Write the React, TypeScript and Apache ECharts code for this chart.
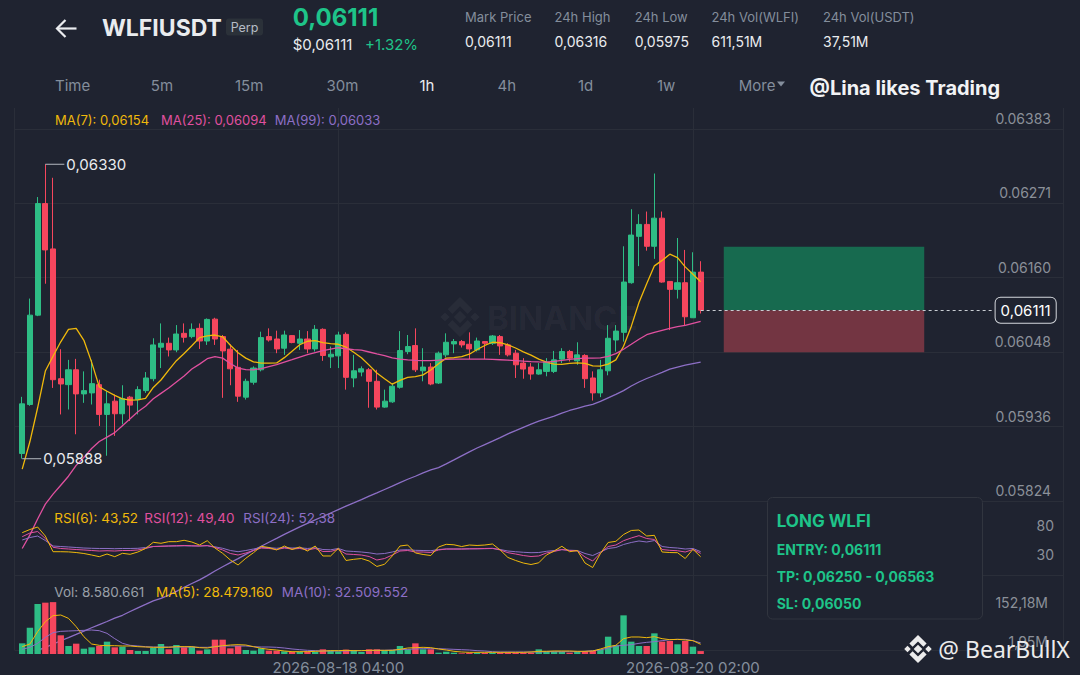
import React, { useEffect, useRef } from "react";
import * as echarts from "echarts";

// ---------- colours ----------
const BG = "#1f2330";
const GRID = "#2a2e39";
const UP = "#2ebd85";
const DOWN = "#f6465d";
const TEXT = "#eaecef";
const MUTED = "#848e9c";
const AXIS_TEXT = "#8b9099";
const YELLOW = "#f0b90b";
const PINK = "#e0509f";
const PURPLE = "#8d6fc6";
const SIGNAL_GREEN = "#1ec489";

// ---------- time slots (1h candles) ----------
const FIRST_SLOT_TIME = "2026-08-16T10:00:00Z";
const SLOT_COUNT = 137;
const LEAD_SLOTS = 1;
const labelledTimes = ["2026-08-18 04:00", "2026-08-20 02:00"];

// ---------- candles ----------
const opens = [0.058959, 0.059694, 0.061035, 0.06271, 0.062029, 0.060081, 0.059992, 0.060215, 0.059853, 0.059868,
  0.059992, 0.059545, 0.059744, 0.059555, 0.059804, 0.059768, 0.059902, 0.060081, 0.060554, 0.060613,
  0.060513, 0.060762, 0.060713, 0.060837, 0.060647, 0.060975, 0.060713, 0.060524, 0.060251, 0.059804,
  0.060028, 0.060215, 0.060713, 0.060677, 0.060539, 0.060728, 0.060613, 0.060677, 0.060528, 0.060822,
  0.060409, 0.060424, 0.060747, 0.060092, 0.060181, 0.060215, 0.060042, 0.059655, 0.059734, 0.059953,
  0.060489, 0.060579, 0.0602, 0.060256, 0.060017, 0.060439, 0.060603, 0.060638, 0.060598, 0.060513,
  0.060638, 0.060613, 0.060713, 0.060588, 0.060464, 0.060315, 0.060256, 0.060151, 0.060191, 0.060191,
  0.060375, 0.060489, 0.060349, 0.06043, 0.060092, 0.059868, 0.0602, 0.060662, 0.060777, 0.061522,
  0.062218, 0.062397, 0.062069, 0.062491, 0.061541, 0.061422, 0.061522, 0.060996, 0.061681];
const closes = [0.059704, 0.061035, 0.06271, 0.062014, 0.060066, 0.060002, 0.060215, 0.059853, 0.059902, 0.060007,
  0.059545, 0.059704, 0.059555, 0.059783, 0.059685, 0.059917, 0.060092, 0.060588, 0.060613, 0.060513,
  0.060752, 0.060703, 0.060822, 0.060647, 0.060971, 0.060677, 0.060498, 0.06023, 0.059819, 0.060042,
  0.060241, 0.060698, 0.060662, 0.060528, 0.060737, 0.060624, 0.060677, 0.060528, 0.060822, 0.06043,
  0.060449, 0.060737, 0.060102, 0.0602, 0.06023, 0.060042, 0.059655, 0.059744, 0.059968, 0.060504,
  0.060564, 0.060215, 0.060256, 0.060002, 0.060464, 0.060628, 0.060638, 0.060588, 0.060528, 0.060647,
  0.060613, 0.060722, 0.060573, 0.060439, 0.06029, 0.060226, 0.060151, 0.060215, 0.06033, 0.060364,
  0.060489, 0.06039, 0.060439, 0.060081, 0.059868, 0.060215, 0.060688, 0.060796, 0.061532, 0.062237,
  0.062397, 0.062069, 0.062491, 0.061532, 0.061422, 0.061522, 0.061011, 0.061681, 0.06111];
const lows = [0.05888, 0.059674, 0.06102, 0.061507, 0.059943, 0.059545, 0.059619, 0.059247, 0.059719, 0.059694,
  0.059372, 0.058925, 0.059223, 0.059396, 0.059446, 0.059545, 0.059868, 0.060042, 0.060241, 0.060415,
  0.060479, 0.060624, 0.060688, 0.060528, 0.060588, 0.060588, 0.059794, 0.059983, 0.059734, 0.059768,
  0.059992, 0.060191, 0.060638, 0.060464, 0.060439, 0.060613, 0.060513, 0.060464, 0.060489, 0.060349,
  0.060241, 0.060241, 0.059917, 0.059953, 0.060117, 0.059645, 0.059619, 0.059645, 0.059719, 0.059932,
  0.060449, 0.060181, 0.060042, 0.059983, 0.060002, 0.0604, 0.060464, 0.060549, 0.060375, 0.060489,
  0.060375, 0.060588, 0.060439, 0.060415, 0.060092, 0.060081, 0.060066, 0.060141, 0.060117, 0.060166,
  0.060315, 0.06034, 0.06029, 0.059943, 0.059753, 0.059804, 0.060132, 0.060489, 0.060638, 0.061507,
  0.061771, 0.062003, 0.06188, 0.061522, 0.060811, 0.061284, 0.060886, 0.060996, 0.06106];
const highs = [0.059809, 0.061284, 0.062808, 0.0633, 0.063097, 0.060524, 0.060364, 0.060379, 0.060191, 0.060364,
  0.060066, 0.059893, 0.059843, 0.059983, 0.059823, 0.059968, 0.060181, 0.060688, 0.060911, 0.060698,
  0.060886, 0.060911, 0.060911, 0.060911, 0.060986, 0.060996, 0.060737, 0.060598, 0.060513, 0.060081,
  0.060266, 0.060787, 0.060837, 0.060802, 0.060802, 0.060737, 0.060811, 0.060796, 0.060886, 0.060837,
  0.060564, 0.060787, 0.060777, 0.060439, 0.060266, 0.060241, 0.060215, 0.059917, 0.060017, 0.060796,
  0.060737, 0.060837, 0.060539, 0.060315, 0.060489, 0.060762, 0.060677, 0.060662, 0.060777, 0.060698,
  0.060647, 0.060737, 0.060737, 0.060613, 0.060513, 0.06039, 0.060315, 0.060315, 0.06039, 0.060498,
  0.060539, 0.060513, 0.060628, 0.060449, 0.060191, 0.060364, 0.060886, 0.060886, 0.062069, 0.062625,
  0.06255, 0.06259, 0.063161, 0.06259, 0.061547, 0.062193, 0.062014, 0.061979, 0.061845];

// ---------- moving averages ----------
const ma7 = [0.058725, 0.059138, 0.059645, 0.060196, 0.060419, 0.060635, 0.060822, 0.060837, 0.060658, 0.06033,
  0.059958, 0.059893, 0.059831, 0.059779, 0.059759, 0.059764, 0.059786, 0.05995, 0.060062, 0.060211,
  0.060352, 0.06046, 0.060576, 0.060698, 0.060725, 0.060737, 0.06071, 0.060583, 0.060472, 0.06039,
  0.060334, 0.060315, 0.060315, 0.060318, 0.060397, 0.060495, 0.060591, 0.060643, 0.060652, 0.060624,
  0.060607, 0.060598, 0.060554, 0.060479, 0.060397, 0.060285, 0.060166, 0.060081, 0.059999, 0.060056,
  0.060102, 0.060112, 0.060139, 0.060211, 0.060306, 0.06039, 0.060396, 0.060412, 0.060449, 0.060519,
  0.06058, 0.060628, 0.060621, 0.060589, 0.060542, 0.060485, 0.060436, 0.060375, 0.06033, 0.0603,
  0.060296, 0.060311, 0.060318, 0.060312, 0.060273, 0.060269, 0.0603, 0.060364, 0.060568, 0.060866,
  0.061224, 0.061507, 0.061775, 0.061857, 0.06195, 0.061899, 0.06176, 0.061649, 0.061537];
const ma25 = [0.057533, 0.057737, 0.057976, 0.058199, 0.058348, 0.058482, 0.058617, 0.05878, 0.0589, 0.059034,
  0.059138, 0.059205, 0.059272, 0.059376, 0.059481, 0.059585, 0.059667, 0.059779, 0.059861, 0.059943,
  0.060032, 0.060121, 0.060226, 0.0603, 0.060382, 0.060412, 0.06039, 0.060308, 0.060241, 0.060218,
  0.060215, 0.060233, 0.060263, 0.060293, 0.06033, 0.060367, 0.060405, 0.060442, 0.060472, 0.060501,
  0.060524, 0.060546, 0.060531, 0.060519, 0.060509, 0.060482, 0.060454, 0.060428, 0.060394, 0.060375,
  0.060363, 0.060355, 0.060354, 0.060352, 0.06036, 0.060372, 0.060375, 0.060375, 0.060375, 0.060375,
  0.060375, 0.060371, 0.060366, 0.06036, 0.060354, 0.060345, 0.060337, 0.060333, 0.06033, 0.060342,
  0.060355, 0.060372, 0.060382, 0.06039, 0.06039, 0.060393, 0.060415, 0.060457, 0.060524, 0.060598,
  0.060673, 0.060741, 0.060777, 0.060807, 0.060837, 0.060862, 0.060881, 0.060911, 0.060941];
const ma99 = [0.055905, 0.055954, 0.056002, 0.056049, 0.056098, 0.056148, 0.056195, 0.056243, 0.056292, 0.056343,
  0.05639, 0.056437, 0.056486, 0.05653, 0.056587, 0.056642, 0.056694, 0.056747, 0.056784, 0.056833,
  0.056888, 0.056948, 0.057007, 0.057062, 0.057126, 0.057194, 0.057258, 0.05732, 0.05738, 0.057444,
  0.057506, 0.057566, 0.057626, 0.057685, 0.057745, 0.057801, 0.057857, 0.057909, 0.057961, 0.058013,
  0.058065, 0.058117, 0.058169, 0.058217, 0.058266, 0.058319, 0.058368, 0.058418, 0.058468, 0.05852,
  0.058572, 0.058617, 0.058669, 0.058713, 0.058746, 0.058803, 0.058862, 0.058922, 0.058982, 0.059041,
  0.059093, 0.059145, 0.059198, 0.059254, 0.059302, 0.059351, 0.059399, 0.059443, 0.059481, 0.059518,
  0.059563, 0.059604, 0.059637, 0.05967, 0.059697, 0.059741, 0.059794, 0.059846, 0.059902, 0.059972,
  0.060032, 0.060084, 0.060129, 0.060177, 0.060226, 0.060256, 0.060285, 0.060308, 0.06033];

// ---------- RSI ----------
const rsi6 = [85.3, 90.8, 95.1, 79.5, 52.3, 52.3, 52, 50.9, 49.2, 46.6,
  43.7, 48.3, 43.7, 49.5, 47.8, 51.8, 57.9, 68.6, 66.9, 69.7,
  69.7, 72.1, 69.1, 63.9, 71.4, 58.7, 49.5, 37.9, 29.3, 40.9,
  50.6, 61.7, 59.6, 55.3, 62.2, 56.1, 60.5, 53.5, 62.2, 44.9,
  44.9, 58.2, 37.1, 39.1, 40.5, 36.2, 26.7, 30.5, 44.9, 62.2,
  63.9, 50.1, 47.5, 45.7, 60.5, 65.1, 64.3, 61.3, 63.9, 63.1,
  63.9, 65.7, 55.3, 42.3, 37.1, 32.7, 30.1, 33.1, 46.6, 53.5,
  61.7, 52.3, 54.4, 32.7, 24.9, 49.2, 68.3, 70.3, 82.1, 89.1,
  89.9, 79.5, 80.7, 51.8, 50.9, 50.6, 40.5, 56.5, 43.52];
const rsi12 = [78.3, 84.7, 87.3, 75.2, 59.9, 57.9, 57, 56.1, 55.3, 54.4,
  53.5, 54, 53.5, 54.4, 54.4, 55.3, 57.9, 61.3, 61.7, 62.2,
  62.7, 63.1, 62.7, 62.2, 63.1, 59.6, 55.3, 49.2, 46.6, 50.1,
  54.4, 58.7, 57.9, 56.1, 58.7, 57, 57.9, 55.3, 57.9, 52.7,
  52.7, 56.5, 48.3, 47.5, 46.6, 44, 37.9, 40.5, 46.6, 53.5,
  54.4, 51.8, 51.8, 50.9, 55.3, 57, 57, 57, 57.3, 57.5,
  57.9, 58.2, 55.3, 50.6, 48.3, 45.7, 44, 44.9, 50.1, 52.7,
  56.1, 54.4, 53.5, 43.1, 36.2, 50.1, 61.3, 63.9, 71.4, 76.1,
  80.1, 75.2, 73.5, 56.1, 54.7, 54, 51.8, 56.1, 49.4];
const rsi24 = [72.6, 76.9, 79.5, 71.7, 62.2, 61.3, 60.5, 59.6, 58.7, 58.2,
  57.9, 57.9, 57.5, 57.9, 57.9, 58.2, 59.6, 61.3, 61.7, 62.2,
  62.2, 62.5, 62.2, 62.2, 62.5, 60.8, 58.2, 54.4, 52.3, 54.4,
  57, 59.6, 59.3, 58.2, 59.6, 58.7, 59.1, 57.9, 59.1, 56.1,
  55.6, 57.9, 53.5, 52.7, 51.8, 50.4, 48.3, 49.2, 51.8, 55.3,
  55.8, 54.7, 54.4, 54, 56.1, 57, 57, 57, 57.3, 57.3,
  57.5, 57.9, 56.1, 53.5, 52.3, 51.3, 50.6, 50.9, 53, 54.4,
  55.8, 54.9, 54.4, 49.2, 45.7, 51.8, 57.9, 59.6, 64.8, 68.3,
  70.9, 69.1, 71.7, 61.3, 59.6, 58.7, 57, 57.9, 52.38];

// ---------- volume (millions) ----------
const volumes = [31.3, 77.2, 146.7, 150.6, 152.18, 54.8, 23.5, 30.3, 15.6, 19.6,
  23.5, 36.2, 19.6, 21.5, 11.7, 8.8, 8.8, 17.6, 29.3, 13.7,
  26.4, 19.6, 21.5, 9.8, 13.7, 42, 42, 16.6, 23.5, 11.7,
  9.8, 16.6, 9.8, 9.8, 7.8, 5.9, 6.8, 7.8, 5.9, 13.7,
  9.8, 7.8, 12.7, 11.7, 5.9, 13.7, 13.7, 11.7, 11.7, 23.5,
  13.7, 31.3, 13.7, 13.7, 3.9, 6.8, 3.9, 2, 3.9, 3.9,
  2.9, 3.9, 3.9, 3.9, 3.9, 3.9, 3.9, 13.7, 6.8, 6.8,
  6.8, 3.9, 6.8, 7.8, 8.8, 13.7, 50.8, 25.4, 113.4, 36.2,
  23.5, 23.5, 60.6, 36.2, 38.1, 28.4, 38.1, 21.5, 8.58];
const volMa5 = [21.5, 29.3, 65.5, 94.8, 112.4, 114.4, 104.6, 80.2, 50.8, 29.3,
  25.4, 24.4, 24.4, 23.5, 23.5, 21.5, 20.5, 19.6, 19.6, 19.6,
  21.5, 21.5, 21.5, 18.6, 17.6, 21.5, 24.4, 26.4, 27.4, 26.4,
  21.5, 16.6, 13.7, 11.7, 8.8, 6.8, 6.8, 6.8, 7.8, 8.8,
  9.8, 9.8, 10.8, 9.8, 9.8, 10.8, 10.8, 10.8, 10.8, 13.7,
  17.6, 18.6, 19.6, 18.6, 14.7, 11.7, 7.8, 5.9, 4.9, 4.9,
  4.9, 4.9, 4.9, 4.9, 4.9, 4.9, 5.9, 7.8, 7.8, 8.8,
  8.8, 8.8, 7.8, 7.8, 8.8, 14.7, 21.5, 25.4, 45, 49.9,
  49.9, 47.9, 50.8, 45, 42, 43, 41.1, 39.1, 28.48];
const volMa10 = [13.7, 19.6, 31.3, 48.9, 62.6, 66.5, 67.5, 68.4, 69.4, 70.4,
  68.4, 60.6, 45, 31.3, 25.4, 23.5, 21.5, 20.5, 20.5, 20.5,
  20.5, 20.5, 20.5, 19.6, 19.6, 21.5, 23.5, 23.5, 23.5, 23.5,
  21.5, 20.5, 20.5, 19.6, 17.6, 14.7, 12.7, 10.8, 9.8, 8.8,
  8.8, 8.8, 8.8, 9.8, 9.8, 9.8, 10.8, 10.8, 11.7, 12.7,
  13.7, 14.7, 15.6, 15.6, 15.6, 14.7, 13.7, 12.7, 11.7, 9.8,
  8.8, 6.8, 5.9, 5.9, 5.9, 5.9, 5.9, 5.9, 6.8, 6.8,
  6.8, 6.8, 6.8, 7.8, 9.8, 11.7, 17.6, 23.5, 25.4, 27.4,
  31.3, 34.2, 36.2, 39.1, 42, 43, 43, 39.1, 32.51];

// ---------- axis ticks / labels ----------
const rsiAxisLabels = [80, 30];
const volAxisLabels = [152.18, 1.95];

// ---------- trade setup ----------
const setupTop = 0.06206;
const setupEntry = 0.06111;
const setupBottom = 0.06048;
const setupStartSlot = 92;
const setupEndSlot = 118;
const priceLineEndSlot = 127;

const pad2 = (n: number) => String(n).padStart(2, "0");
const categories = Array.from({ length: SLOT_COUNT }, (_, k) => {
  const d = new Date(Date.parse(FIRST_SLOT_TIME) + k * 3600000);
  return `${d.getUTCFullYear()}-${pad2(d.getUTCMonth() + 1)}-${pad2(d.getUTCDate())} ${pad2(d.getUTCHours())}:00`;
});
const pad = (arr: any[]) => [
  ...Array(LEAD_SLOTS).fill("-"),
  ...arr,
  ...Array(SLOT_COUNT - LEAD_SLOTS - arr.length).fill("-"),
];
const comma = (v: number, d = 5) => v.toFixed(d).replace(".", ",");

function txt(x: number, y: number, text: string, fill: string, size: number, weight: any = "normal", align = "left", family = "Inter", z = 100) {
  return {
    type: "text", x, y, z, silent: true,
    style: { text, fill, fontSize: size, fontWeight: weight, fontFamily: family, textAlign: align, textVerticalAlign: "middle", align, verticalAlign: "middle" },
  };
}

function logo(cx: number, cy: number, half: number, fill: string, z: number) {
  const s = half / 0.52;
  const diamond = (x: number, y: number, h: number) => [[x, y - h], [x + h, y], [x, y + h], [x - h, y]];
  const shapes = [
    diamond(0, 0, 0.16),
    diamond(-0.39, 0, 0.12),
    diamond(0.39, 0, 0.12),
    [[0, -0.52], [0.32, -0.2], [0.2, -0.08], [0, -0.28], [-0.2, -0.08], [-0.32, -0.2]],
    [[0, 0.52], [0.32, 0.2], [0.2, 0.08], [0, 0.28], [-0.2, 0.08], [-0.32, 0.2]],
  ];
  return shapes.map((pts) => ({
    type: "polygon", z, silent: true,
    shape: { points: pts.map(([x, y]) => [cx + x * s, cy + y * s]) },
    style: { fill },
  }));
}

export default function App() {
  const ref = useRef<HTMLDivElement>(null);

  useEffect(() => {
    document.body.style.margin = "0";
    document.body.style.background = BG;
    const chart = echarts.init(ref.current!, null, { renderer: "svg" });

    const candleData = opens.map((o, i) => [o, closes[i], lows[i], highs[i]]);
    const volData = volumes.map((v, i) => ({
      value: v,
      itemStyle: { color: closes[i] >= opens[i] ? UP : DOWN },
    }));
    const hiIdx = highs.indexOf(Math.max(...highs));
    const loIdx = lows.indexOf(Math.min(...lows));
    const lastClose = closes[closes.length - 1];
    const lastSlot = LEAD_SLOTS + closes.length - 1;

    const grids = [
      { left: 14.5, right: 17, top: 108, bottom: 21 },
      { left: 14.5, right: 17, top: 504, height: 75 },
      { left: 14.5, right: 17, top: 579, height: 75 },
    ];

    const xAxisBase = { type: "category", data: categories, boundaryGap: false };

    const option: any = {
      animation: false,
      backgroundColor: BG,
      textStyle: { fontFamily: "Inter" },
      grid: grids,
      xAxis: [
        {
          ...xAxisBase, gridIndex: 0,
          axisLine: { show: false }, axisTick: { show: false },
          splitLine: {
            show: true,
            interval: (idx: number, val: string) => idx === 0 || idx === SLOT_COUNT - 1 || labelledTimes.includes(val),
            lineStyle: { color: GRID, width: 1 },
          },
          axisLabel: {
            interval: (idx: number, val: string) => labelledTimes.includes(val),
            color: MUTED, fontSize: 15, margin: 10,
          },
        },
        { ...xAxisBase, gridIndex: 1, show: false },
        { ...xAxisBase, gridIndex: 2, show: false },
      ],
      yAxis: [
        {
          type: "value", gridIndex: 0, position: "right",
          min: 0.056009, max: 0.0641444, interval: 0.0011175,
          axisLine: { show: false }, axisTick: { show: false },
          splitLine: { show: true, showMaxLine: false, lineStyle: { color: GRID, width: 1 } },
          axisLabel: {
            inside: true, margin: 12, color: AXIS_TEXT, fontSize: 14,
            verticalAlign: "bottom", lineHeight: 17, padding: [0, 0, 2, 0],
            formatter: (v: number) => (v > 0.0582 && v < 0.0639 ? v.toFixed(5) : ""),
          },
        },
        {
          type: "value", gridIndex: 1, position: "right",
          min: 5, max: 135, interval: 5,
          axisLine: { show: false }, axisTick: { show: false }, splitLine: { show: false },
          axisLabel: {
            inside: true, margin: 9, color: AXIS_TEXT, fontSize: 14,
            verticalAlign: "bottom", lineHeight: 17, padding: [0, 0, 2, 0],
            formatter: (v: number) => (rsiAxisLabels.includes(v) ? String(v) : ""),
          },
        },
        {
          type: "value", gridIndex: 2, position: "right",
          min: 0, max: 220,
          axisLine: { show: false }, axisTick: { show: false }, splitLine: { show: false },
          axisLabel: {
            inside: true, margin: 15, color: AXIS_TEXT, fontSize: 14,
            customValues: volAxisLabels,
            formatter: (v: number) => (v === volAxisLabels[0] ? `{hi|${comma(v, 2)}M}` : `{lo|${comma(v, 2)}M}`),
            rich: {
              hi: { color: AXIS_TEXT, fontSize: 14 },
              lo: { color: AXIS_TEXT, fontSize: 14, padding: [0, 0, 24, 0] },
            },
          },
        },
      ],
      series: [
        {
          name: "MA99", type: "line", xAxisIndex: 0, yAxisIndex: 0, z: 1,
          data: pad(ma99), symbol: "none", lineStyle: { color: PURPLE, width: 1.3 }, silent: true,
          markArea: {
            silent: true,
            data: [
              [{ coord: [categories[setupStartSlot], setupTop], itemStyle: { color: "#176a4f" } },
               { coord: [categories[setupEndSlot], setupEntry] }],
              [{ coord: [categories[setupStartSlot], setupEntry], itemStyle: { color: "#733542" } },
               { coord: [categories[setupEndSlot], setupBottom] }],
            ],
          },
        },
        {
          name: "K", type: "candlestick", xAxisIndex: 0, yAxisIndex: 0, z: 2,
          data: pad(candleData), barWidth: 5.6,
          itemStyle: { color: UP, color0: DOWN, borderColor: UP, borderColor0: DOWN, borderWidth: 1 },
          markPoint: {
            symbol: "rect", symbolSize: [19, 1], symbolOffset: [9.5, 0], silent: true,
            itemStyle: { color: "#b5b9c0" },
            label: { show: true, position: "right", distance: 2, color: TEXT, fontSize: 15, formatter: (p: any) => p.name },
            data: [
              { name: comma(highs[hiIdx]), coord: [categories[LEAD_SLOTS + hiIdx], highs[hiIdx]] },
              { name: comma(lows[loIdx]), coord: [categories[LEAD_SLOTS + loIdx], lows[loIdx]] },
            ],
          },
          markLine: {
            silent: true, symbol: ["none", "none"],
            lineStyle: { color: "#c9cdd3", width: 1, type: [3, 3] },
            label: {
              show: true, position: "end", distance: 2, formatter: comma(lastClose),
              color: "#ffffff", fontSize: 15, backgroundColor: BG,
              borderColor: "#d5d8dd", borderWidth: 1, borderRadius: 5, padding: [5, 5, 5, 5],
            },
            data: [[
              { coord: [categories[lastSlot], lastClose] },
              { coord: [categories[priceLineEndSlot], lastClose] },
            ]],
          },
        },
        { name: "MA7", type: "line", xAxisIndex: 0, yAxisIndex: 0, z: 3, data: pad(ma7), symbol: "none", lineStyle: { color: YELLOW, width: 1.3 }, silent: true },
        { name: "MA25", type: "line", xAxisIndex: 0, yAxisIndex: 0, z: 3, data: pad(ma25), symbol: "none", lineStyle: { color: PINK, width: 1.3 }, silent: true },
        { name: "RSI24", type: "line", xAxisIndex: 1, yAxisIndex: 1, data: pad(rsi24), symbol: "none", lineStyle: { color: PURPLE, width: 1 }, silent: true },
        { name: "RSI12", type: "line", xAxisIndex: 1, yAxisIndex: 1, data: pad(rsi12), symbol: "none", lineStyle: { color: PINK, width: 1 }, silent: true },
        { name: "RSI6", type: "line", xAxisIndex: 1, yAxisIndex: 1, data: pad(rsi6), symbol: "none", lineStyle: { color: YELLOW, width: 1 }, silent: true },
        { name: "Vol", type: "bar", xAxisIndex: 2, yAxisIndex: 2, data: pad(volData), barWidth: 6.4, silent: true },
        { name: "VolMA10", type: "line", xAxisIndex: 2, yAxisIndex: 2, data: pad(volMa10), symbol: "none", lineStyle: { color: PURPLE, width: 1 }, silent: true },
        { name: "VolMA5", type: "line", xAxisIndex: 2, yAxisIndex: 2, data: pad(volMa5), symbol: "none", lineStyle: { color: YELLOW, width: 1 }, silent: true },
      ],
      graphic: [
        // faint centre watermark
        ...logo(460, 317, 20, "rgba(255,255,255,0.045)", 0),
        txt(487, 318, "BINANCE", "rgba(255,255,255,0.045)", 33, "bold", "left", "Inter", 0),
        // header
        { type: "polyline", z: 100, silent: true, shape: { points: [[57, 28.5], [76.5, 28.5]] }, style: { stroke: TEXT, lineWidth: 2.2, fill: null } },
        { type: "polyline", z: 100, silent: true, shape: { points: [[65.5, 20], [57, 28.5], [65.5, 37]] }, style: { stroke: TEXT, lineWidth: 2.2, fill: null } },
        txt(102, 27.5, "WLFIUSDT", TEXT, 23, "bold"),
        { type: "rect", z: 100, silent: true, shape: { x: 226, y: 18.5, width: 37, height: 17, r: 3 }, style: { fill: "#2b3139" } },
        txt(244.5, 27, "Perp", "#b7bdc6", 12.5, "normal", "center"),
        txt(292.7, 17, comma(lastClose), SIGNAL_GREEN, 24, "bold"),
        txt(292.7, 44, "$" + comma(lastClose), TEXT, 15),
        txt(365, 44, "+1.32%", SIGNAL_GREEN, 15),
        txt(465, 16.5, "Mark Price", MUTED, 13),
        txt(554.5, 16.5, "24h High", MUTED, 13),
        txt(634.7, 16.5, "24h Low", MUTED, 13),
        txt(711.5, 16.5, "24h Vol(WLFI)", MUTED, 13),
        txt(823, 16.5, "24h Vol(USDT)", MUTED, 13),
        txt(465, 41.3, comma(lastClose), TEXT, 14),
        txt(554.5, 41.3, "0,06316", TEXT, 14),
        txt(634.7, 41.3, "0,05975", TEXT, 14),
        txt(711.5, 41.3, "611,51M", TEXT, 14),
        txt(823, 41.3, "37,51M", TEXT, 14),
        // interval tabs
        txt(55, 85.5, "Time", MUTED, 15),
        txt(150.8, 85.5, "5m", MUTED, 15),
        txt(235, 85.5, "15m", MUTED, 15),
        txt(326.4, 85.5, "30m", MUTED, 15),
        txt(419.4, 85.5, "1h", TEXT, 15),
        txt(497.6, 85.5, "4h", MUTED, 15),
        txt(577.9, 85.5, "1d", MUTED, 15),
        txt(657, 85.5, "1w", MUTED, 15),
        txt(738.7, 85.5, "More", MUTED, 15),
        { type: "polygon", z: 100, silent: true, shape: { points: [[777, 81.5], [785, 81.5], [781, 86.5]] }, style: { fill: MUTED } },
        txt(809.6, 88, "@Lina likes Trading", "#f2f3f5", 20, "bold"),
        // MA legend
        txt(55, 120, "MA(7): " + comma(ma7[ma7.length - 1]), YELLOW, 13),
        txt(161, 120, "MA(25): " + comma(ma25[ma25.length - 1]), PINK, 13),
        txt(274.8, 120, "MA(99): " + comma(ma99[ma99.length - 1]), PURPLE, 13),
        // RSI legend
        txt(54.3, 518.3, "RSI(6): " + comma(rsi6[rsi6.length - 1], 2), YELLOW, 13.5),
        txt(144.3, 518.3, "RSI(12): " + comma(rsi12[rsi12.length - 1], 2), PINK, 13.5),
        txt(243.3, 518.3, "RSI(24): " + comma(rsi24[rsi24.length - 1], 2), PURPLE, 13.5),
        // Vol legend
        txt(54.3, 591.7, "Vol: 8.580.661", "#9aa0a8", 13.5),
        txt(156, 591.7, "MA(5): 28.479.160", YELLOW, 13.5),
        txt(281.7, 591.7, "MA(10): 32.509.552", PURPLE, 13.5),
        // trade card
        { type: "rect", z: 90, silent: true, shape: { x: 767.5, y: 497.5, width: 215, height: 121.5, r: 5 }, style: { fill: BG, stroke: "#31353f", lineWidth: 1 } },
        txt(776.7, 520.7, "LONG WLFI", SIGNAL_GREEN, 17, "bold"),
        txt(776.7, 549, "ENTRY: 0,06111", SIGNAL_GREEN, 14, "bold"),
        txt(776.7, 576.7, "TP: 0,06250 - 0,06563", SIGNAL_GREEN, 14, "bold"),
        txt(776.7, 603.3, "SL: 0,06050", SIGNAL_GREEN, 14, "bold"),
        // bottom-right watermark
        ...logo(918, 649, 14, "#ececec", 110),
        txt(938.3, 648.5, "@ BearBullX", "#ececec", 23, "normal", "left", "Noto Sans", 110),
      ],
    };

    chart.setOption(option);
    return () => chart.dispose();
  }, []);

  return <div ref={ref} style={{ width: 1080, height: 675, background: BG }} />;
}
